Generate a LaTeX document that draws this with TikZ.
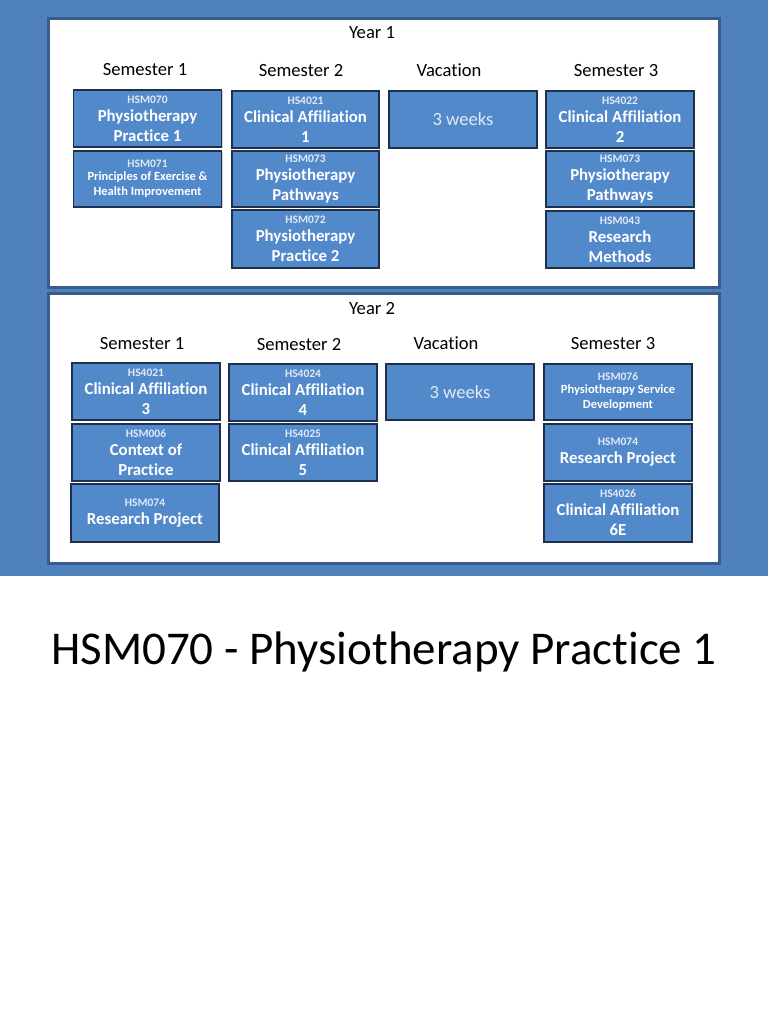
\documentclass[tikz,border=0pt]{standalone}
\usepackage{fontspec}
\setmainfont{Carlito}[Ligatures=NoCommon]
\usetikzlibrary{shadows}
\definecolor{bgblue}{RGB}{79,129,189}
\definecolor{panelborder}{RGB}{56,93,138}
\definecolor{boxfill}{RGB}{82,137,202}
\definecolor{boxborder}{RGB}{30,48,75}
\definecolor{codecol}{RGB}{225,233,245}
\newcommand{\ccode}[1]{{\fontsize{11.5}{12}\selectfont\bfseries\color{codecol}#1}\\[-2pt]}
\newcommand{\cbig}{\fontsize{16.8}{20}\selectfont\bfseries}
\newcommand{\csmall}{\fontsize{12.5}{15}\selectfont\bfseries}
\tikzset{
  panel/.style={draw=panelborder, line width=2.5pt, fill=white},
  coursebox/.style={draw=boxborder, line width=1.1pt, fill=boxfill, text=white,
    align=center, inner sep=0pt, font=\cbig,
    drop shadow={opacity=0.35, shadow xshift=1pt, shadow yshift=-1.2pt}},
  smallbox/.style={coursebox, font=\csmall},
  header/.style={font=\fontsize{18.6}{20}\selectfont, text=black, inner sep=0pt, anchor=base},
  yearlbl/.style={font=\fontsize{18.6}{20}\selectfont, text=black, inner sep=0pt, anchor=base},
  vacbox/.style={coursebox, font=\fontsize{18.6}{20}\selectfont, text=codecol}
}
\begin{document}
\begin{tikzpicture}[x=1pt,y=-1pt]
\useasboundingbox (0,0) rectangle (768,1024);
\fill[bgblue] (0,0) rectangle (768,576);
% panels
\node[panel, minimum width=671pt, minimum height=269pt, inner sep=0pt] (p1) at (384,153) {};
\node[panel, minimum width=671pt, minimum height=270pt, inner sep=0pt] (p2) at (384,428.5) {};
% Year 1 headers
\node[yearlbl] (y1) at (372,39) {Year 1};
\node[header] (y1s1) at (145,75.5) {Semester 1};
\node[header] (y1s2) at (301,76.5) {Semester 2};
\node[header] (y1v) at (449,76.5) {Vacation};
\node[header] (y1s3) at (616,76.5) {Semester 3};
% Year 1 boxes
\node[coursebox, minimum width=148pt, minimum height=57pt] (a1) at (147.5,118.5) {\ccode{HSM070}Physiotherapy\\Practice 1};
\node[smallbox, minimum width=148pt, minimum height=56pt] (a2) at (147.5,179) {\ccode{HSM071}Principles of Exercise \&\\Health Improvement};
\node[coursebox, minimum width=147pt, minimum height=57pt] (b1) at (305.5,119.5) {\ccode{HS4021}Clinical Affiliation\\1};
\node[coursebox, minimum width=147pt, minimum height=56pt] (b2) at (305.5,179) {\ccode{HSM073}Physiotherapy\\Pathways};
\node[coursebox, minimum width=147pt, minimum height=58pt] (b3) at (305.5,239) {\ccode{HSM072}Physiotherapy\\Practice 2};
\node[vacbox, minimum width=148pt, minimum height=57pt] (c1) at (463,119.5) {3 weeks};
\node[coursebox, minimum width=148pt, minimum height=57pt] (d1) at (620,119.5) {\ccode{HS4022}Clinical Affiliation\\2};
\node[coursebox, minimum width=148pt, minimum height=56pt] (d2) at (620,179) {\ccode{HSM073}Physiotherapy\\Pathways};
\node[coursebox, minimum width=148pt, minimum height=57pt] (d3) at (620,239.5) {\ccode{HSM043}Research\\Methods};
% Year 2 headers
\node[yearlbl] (y2) at (372,314) {Year 2};
\node[header] (y2s1) at (142,349.5) {Semester 1};
\node[header] (y2s2) at (299,350.5) {Semester 2};
\node[header] (y2v) at (446,349.5) {Vacation};
\node[header] (y2s3) at (613,349.5) {Semester 3};
% Year 2 boxes
\node[coursebox, minimum width=148pt, minimum height=57pt] (e1) at (146,391.5) {\ccode{HS4021}Clinical Affiliation\\3};
\node[coursebox, minimum width=148pt, minimum height=57pt] (e2) at (146,452.5) {\ccode{HSM006}Context of\\Practice};
\node[coursebox, minimum width=148pt, minimum height=58pt] (e3) at (145,513) {\ccode{HSM074}Research Project};
\node[coursebox, minimum width=148pt, minimum height=57pt] (f1) at (303,392.5) {\ccode{HS4024}Clinical Affiliation\\4};
\node[coursebox, minimum width=148pt, minimum height=57pt] (f2) at (303,452.5) {\ccode{HS4025}Clinical Affiliation\\5};
\node[vacbox, minimum width=148pt, minimum height=56pt] (g1) at (460,392) {3 weeks};
\node[smallbox, minimum width=148pt, minimum height=56pt] (h1) at (618,392) {\ccode{HSM076}Physiotherapy Service\\Development};
\node[coursebox, minimum width=148pt, minimum height=57pt] (h2) at (618,452.5) {\ccode{HSM074}Research Project};
\node[coursebox, minimum width=148pt, minimum height=58pt] (h3) at (618,513) {\ccode{HS4026}Clinical Affiliation\\6E};
% title
\node[font=\fontsize{47}{52}\selectfont, text=black, inner sep=0pt, anchor=base] (title) at (384,664) {HSM070 - Physiotherapy Practice 1};
\end{tikzpicture}
\end{document}
